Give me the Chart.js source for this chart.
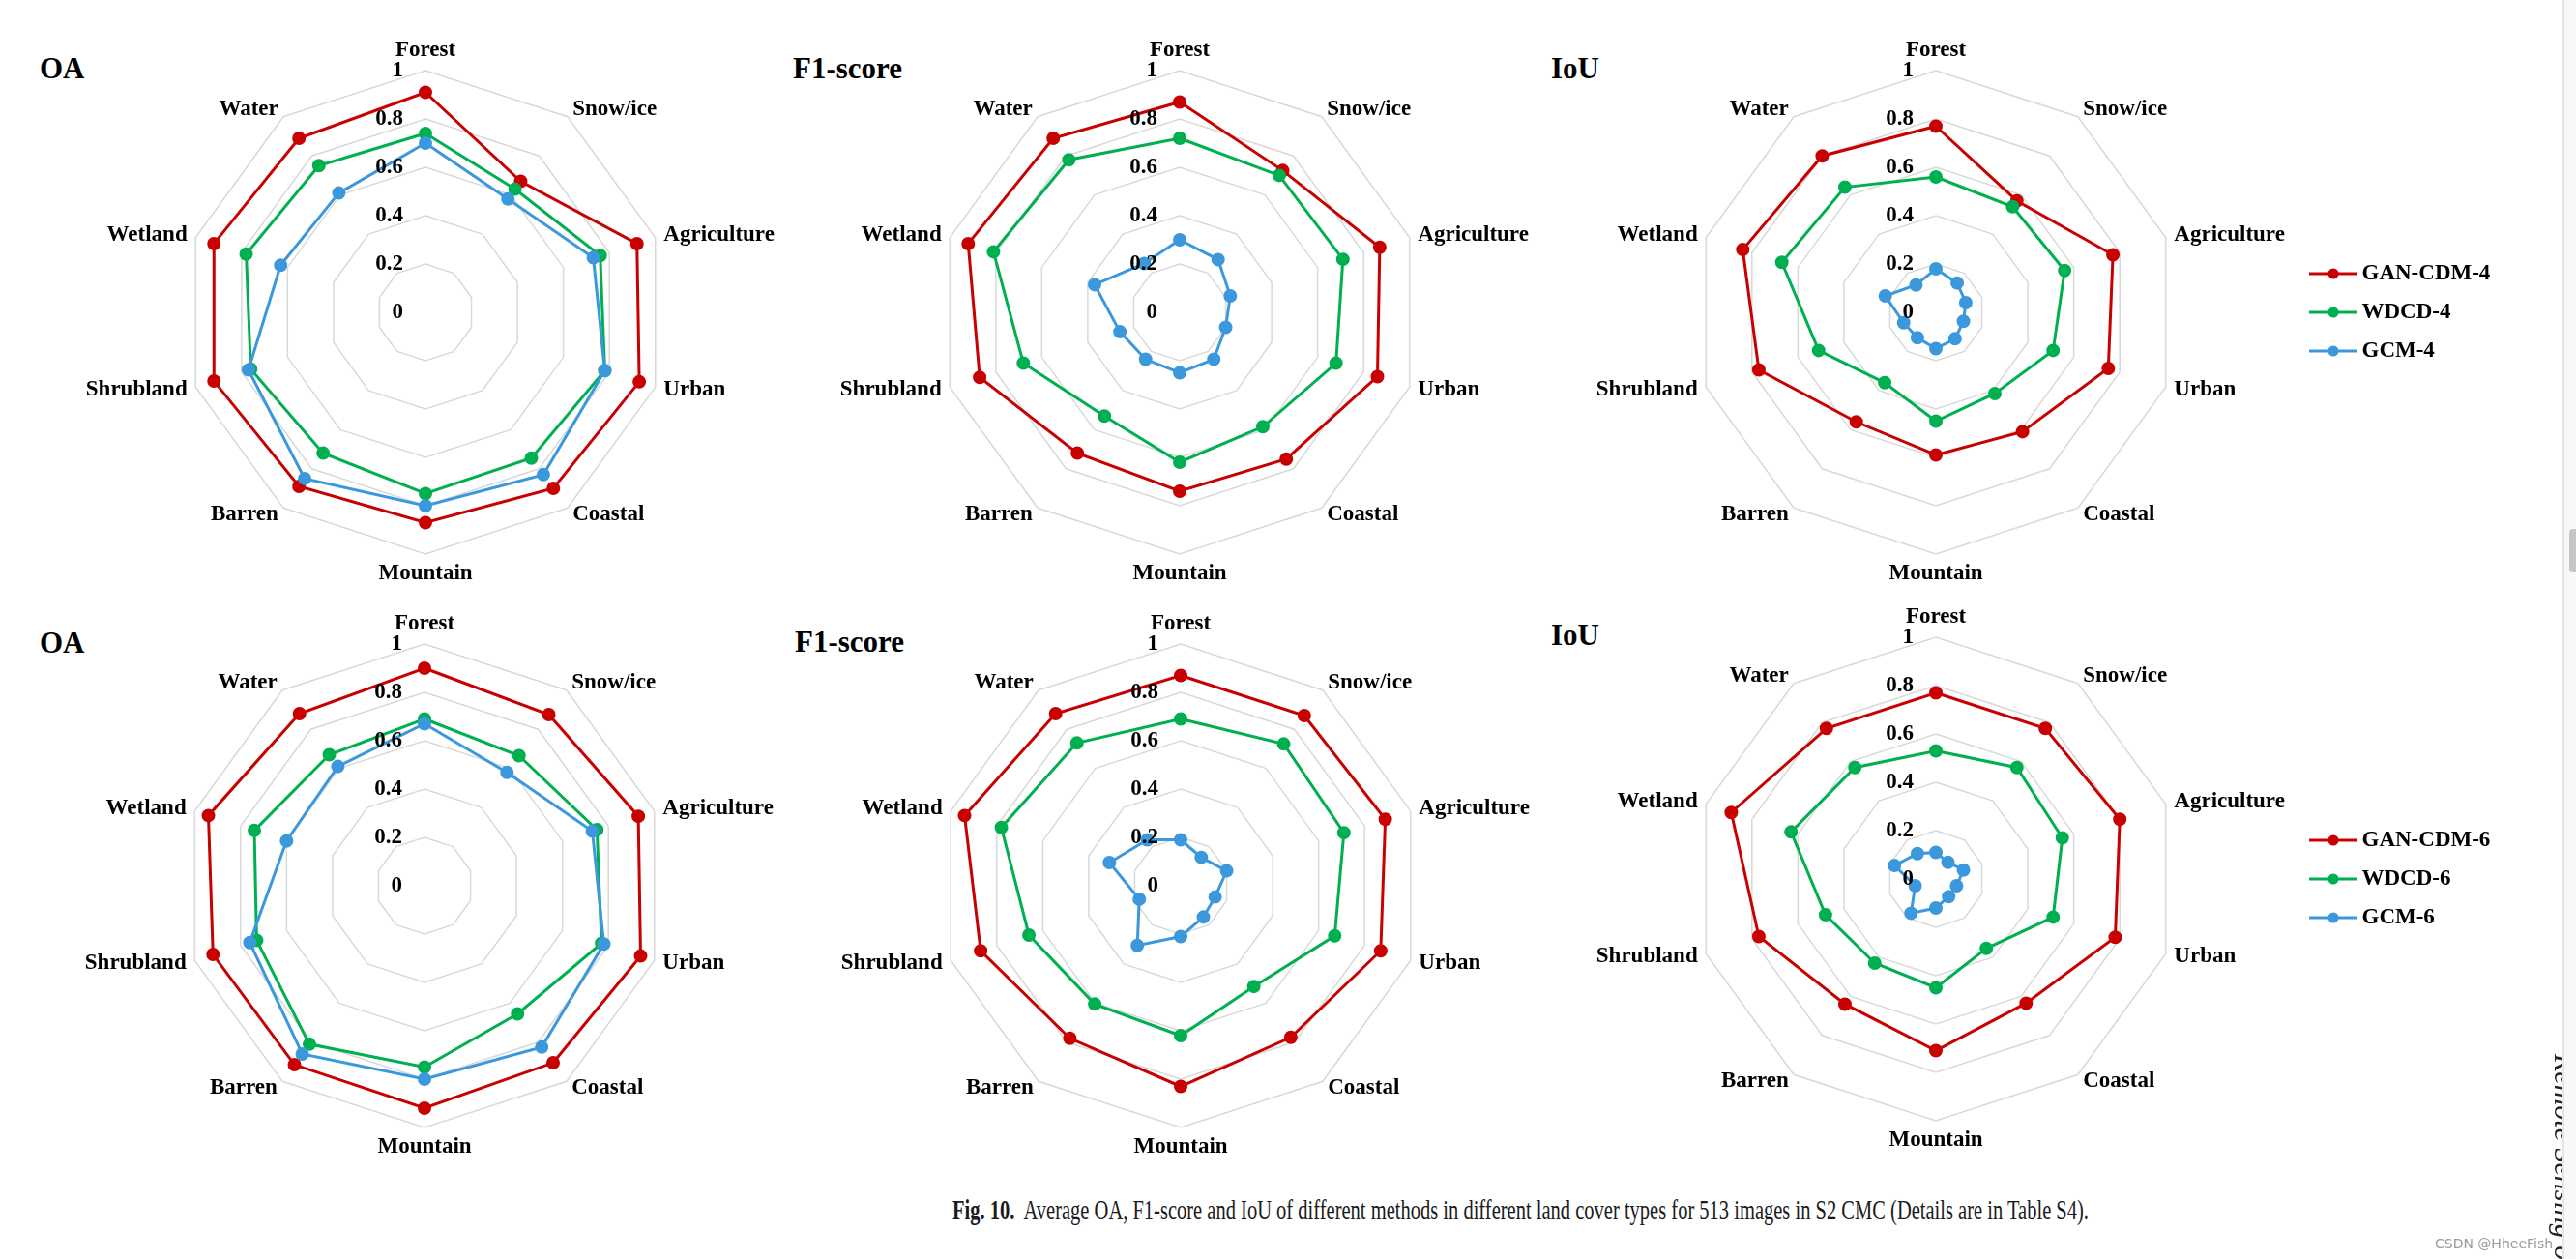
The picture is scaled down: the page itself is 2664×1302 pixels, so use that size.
<!DOCTYPE html>
<html lang="en">
<head>
<meta charset="UTF-8">
<title>Fig. 10 - OA, F1-score and IoU radar charts</title>
<script src="https://cdn.jsdelivr.net/npm/chart.js"></script>
<style>
  html, body { margin: 0; padding: 0; background: #fff; }
  body { width: 2664px; height: 1302px; position: relative; overflow: hidden;
         font-family: 'Liberation Serif', 'Times New Roman', serif; }
  canvas { position: absolute; }
  .title { position: absolute; font-weight: bold; font-size: 31px; line-height: 31px; color: #000; }
  #caption { position: absolute; left: 985px; top: 1235px; font-size: 29px; line-height: 32px;
             white-space: nowrap; transform-origin: 0 0; color: #1a1a1a; }
  #journal { position: absolute; left: 2637px; top: 1090px; writing-mode: vertical-rl;
             font: italic 30px 'Liberation Serif', serif; line-height: 30px; color: #222; white-space: nowrap; }
  #mark { position: absolute; left: 2518px; top: 1278px; font: 14px 'DejaVu Sans', sans-serif; color: #9a9a9a; white-space: nowrap; }
  #margin { position: absolute; left: 2650px; top: 0; width: 14px; height: 1302px; background: #f8f8f8;
            border-left: 2px solid #e4e4e4; }
  #thumb { position: absolute; left: 2657px; top: 547px; width: 7px; height: 45px; background: #c6c6c6; border-radius: 4px 0 0 4px; }
</style>
</head>
<body>
  <div class="title" style="left:41px;top:55px">OA</div>
  <div class="title" style="left:820px;top:55px">F1-score</div>
  <div class="title" style="left:1604px;top:55px">IoU</div>
  <div class="title" style="left:41px;top:649px">OA</div>
  <div class="title" style="left:822px;top:648px">F1-score</div>
  <div class="title" style="left:1604px;top:641px">IoU</div>

  <canvas id="oa4" width="780" height="620" style="left:50px;top:13px"></canvas>
  <canvas id="f14" width="780" height="620" style="left:830px;top:13px"></canvas>
  <canvas id="iou4" width="1040" height="620" style="left:1612px;top:13px"></canvas>
  <canvas id="oa6" width="780" height="620" style="left:49px;top:606px"></canvas>
  <canvas id="f16" width="780" height="620" style="left:831px;top:606px"></canvas>
  <canvas id="iou6" width="1040" height="620" style="left:1612px;top:599px"></canvas>

  <div id="caption"><b>Fig. 10.</b>&nbsp; Average OA, F1-score and IoU of different methods in different land cover types for 513 images in S2 CMC (Details are in Table S4).</div>
  <div id="journal">Remote Sensing of Environment</div>
  <div id="margin"></div>
  <div id="thumb"></div>
  <div id="mark">CSDN @HheeFish</div>

<script>
const categories = ['Forest', 'Snow/ice', 'Agriculture', 'Urban', 'Coastal', 'Mountain', 'Barren', 'Shrubland', 'Wetland', 'Water'];
const tickLabels = ['0', '0.2', '0.4', '0.6', '0.8', '1'];
const names4 = ['GAN-CDM-4', 'WDCD-4', 'GCM-4'];
const names6 = ['GAN-CDM-6', 'WDCD-6', 'GCM-6'];
const colors = ['#c80000', '#00b050', '#3c98dc'];

// top row (4 bands)
const oa4Gan  = [0.91, 0.67, 0.92, 0.93, 0.90, 0.87, 0.89, 0.92, 0.92, 0.89];
const oa4Wdcd = [0.74, 0.63, 0.76, 0.78, 0.745, 0.75, 0.72, 0.76, 0.78, 0.75];
const oa4Gcm  = [0.70, 0.58, 0.73, 0.78, 0.83, 0.80, 0.85, 0.77, 0.63, 0.61];

const f14Gan  = [0.87, 0.725, 0.87, 0.86, 0.75, 0.74, 0.72, 0.87, 0.92, 0.89];
const f14Wdcd = [0.72, 0.70, 0.71, 0.68, 0.585, 0.62, 0.53, 0.68, 0.81, 0.78];
const f14Gcm  = [0.30, 0.27, 0.22, 0.20, 0.24, 0.25, 0.24, 0.26, 0.37, 0.25];

const iou4Gan  = [0.77, 0.57, 0.77, 0.75, 0.61, 0.59, 0.56, 0.77, 0.84, 0.80];
const iou4Wdcd = [0.56, 0.54, 0.56, 0.51, 0.415, 0.45, 0.36, 0.51, 0.67, 0.64];
const iou4Gcm  = [0.18, 0.15, 0.13, 0.12, 0.135, 0.15, 0.13, 0.14, 0.22, 0.14];

// bottom row (6 bands)
const oa6Gan  = [0.90, 0.875, 0.93, 0.94, 0.905, 0.92, 0.915, 0.92, 0.94, 0.88];
const oa6Wdcd = [0.69, 0.665, 0.75, 0.77, 0.655, 0.75, 0.81, 0.73, 0.74, 0.67];
const oa6Gcm  = [0.67, 0.58, 0.73, 0.78, 0.825, 0.80, 0.86, 0.76, 0.60, 0.61];

const f16Gan  = [0.87, 0.87, 0.89, 0.87, 0.775, 0.83, 0.78, 0.87, 0.94, 0.88];
const f16Wdcd = [0.69, 0.725, 0.71, 0.67, 0.515, 0.62, 0.605, 0.66, 0.78, 0.73];
const f16Gcm  = [0.19, 0.145, 0.20, 0.15, 0.16, 0.21, 0.305, 0.18, 0.31, 0.235];

const iou6Gan  = [0.77, 0.77, 0.80, 0.78, 0.635, 0.71, 0.64, 0.77, 0.89, 0.77];
const iou6Wdcd = [0.53, 0.57, 0.55, 0.51, 0.355, 0.45, 0.43, 0.48, 0.63, 0.57];
const iou6Gcm  = [0.11, 0.085, 0.12, 0.09, 0.09, 0.12, 0.175, 0.09, 0.18, 0.13];

const serif = "'Liberation Serif', 'Times New Roman', serif";
Chart.defaults.animation = false;

// tick labels sit left of the vertical axis, category labels centred on their anchor
const radarText = {
  id: 'radarText',
  afterDraw(chart) {
    const r = chart.scales.r;
    const ctx = chart.ctx;
    ctx.save();
    ctx.fillStyle = '#000';
    ctx.font = 'bold 23px ' + serif;
    ctx.textAlign = 'right';
    ctx.textBaseline = 'middle';
    r.ticks.forEach(t => {
      ctx.fillText(t.label, r.xCenter - 23, r.yCenter - r.getDistanceFromCenterForValue(t.value));
    });
    chart.data.labels.forEach((lab, i) => {
      const p = r.getPointPosition(i, r.drawingArea + 9);
      const deg = Math.round(r.getIndexAngle(i) * 180 / Math.PI) % 360;
      ctx.textAlign = (deg === 0 || deg === 180) ? 'center' : (deg < 180 ? 'left' : 'right');
      ctx.textBaseline = deg === 0 ? 'bottom' : (deg === 180 ? 'top' : 'middle');
      ctx.fillText(lab, p.x, p.y);
    });
    ctx.restore();
  }
};

function marker(color) {
  const c = document.createElement('canvas');
  c.width = 50; c.height = 14;
  const g = c.getContext('2d');
  g.strokeStyle = color; g.lineWidth = 3;
  g.beginPath(); g.moveTo(0, 7); g.lineTo(50, 7); g.stroke();
  g.fillStyle = color;
  g.beginPath(); g.arc(25, 7, 5.5, 0, Math.PI * 2); g.fill();
  return c;
}
const markers = colors.map(marker);

function radar(id, series, names, withLegend) {
  const datasets = series.map((values, i) => ({
    label: names[i],
    data: values,
    borderColor: colors[i],
    backgroundColor: colors[i],
    pointBackgroundColor: colors[i],
    pointBorderColor: colors[i],
    borderWidth: 3,
    pointRadius: 5.5,
    pointHoverRadius: 5.5,
    fill: false,
    order: series.length - i
  }));
  const chart = new Chart(document.getElementById(id), {
    type: 'radar',
    data: { labels: categories, datasets },
    options: {
      responsive: false,
      layout: { padding: withLegend ? { top: 60, bottom: 60, left: 14, right: 0 } : { top: 60, bottom: 60, left: 120, right: 120 } },
      scales: {
        r: {
          min: 0, max: 1,
          ticks: { stepSize: 0.2, display: false, callback: (v, i) => tickLabels[i] },
          grid: { color: '#d9d9d9', lineWidth: 1.5, circular: false },
          angleLines: { display: false },
          pointLabels: { display: false }
        }
      },
      plugins: {
        tooltip: { enabled: false },
        legend: withLegend ? {
          display: true,
          position: 'right',
          align: 'center',
          labels: {
            usePointStyle: true,
            pointStyleWidth: 36,
            padding: 17,
            color: '#000',
            font: { family: serif, size: 23, weight: 'bold' },
            generateLabels: ch => ch.data.datasets.map((ds, i) => ({
              text: ds.label, pointStyle: markers[i], fillStyle: ds.borderColor,
              strokeStyle: ds.borderColor, lineWidth: 0, hidden: false, datasetIndex: i, fontColor: '#000'
            }))
          }
        } : { display: false }
      }
    },
    plugins: [radarText]
  });
  if (withLegend) {
    // keep the radar centre at x=390 inside the canvas: legend starts at x=766
    chart.options.layout.padding.right = Math.max(0, chart.legend.left - 766);
    chart.update('none');
  }
  return chart;
}

radar('oa4', [oa4Gan, oa4Wdcd, oa4Gcm], names4, false);
radar('f14', [f14Gan, f14Wdcd, f14Gcm], names4, false);
radar('iou4', [iou4Gan, iou4Wdcd, iou4Gcm], names4, true);
radar('oa6', [oa6Gan, oa6Wdcd, oa6Gcm], names6, false);
radar('f16', [f16Gan, f16Wdcd, f16Gcm], names6, false);
radar('iou6', [iou6Gan, iou6Wdcd, iou6Gcm], names6, true);

// caption is set in a narrow serif in the source, squeeze it to the same width
const cap = document.getElementById('caption');
cap.style.transform = 'scaleX(' + (1175 / cap.getBoundingClientRect().width) + ')';
</script>
</body>
</html>
